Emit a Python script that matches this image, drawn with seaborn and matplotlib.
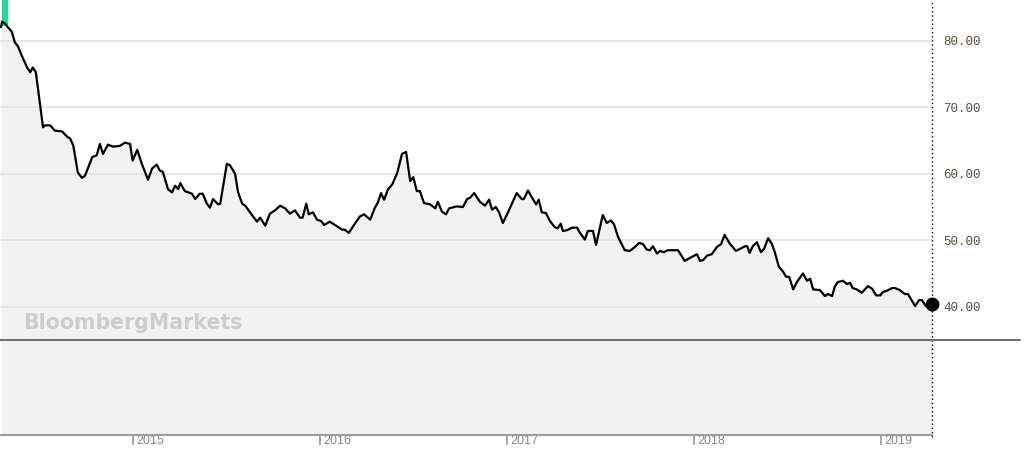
import numpy as np
import pandas as pd
import matplotlib
matplotlib.use("Agg")
import matplotlib.pyplot as plt
import matplotlib.transforms as mtransforms
import seaborn as sns

# price series (approx. weekly closes)
dates = [
    "2014-04-18", "2014-04-20", "2014-04-26", "2014-05-02", "2014-05-09", "2014-05-15",
    "2014-05-21", "2014-05-29", "2014-06-08", "2014-06-14", "2014-06-19", "2014-06-25",
    "2014-07-09", "2014-07-13", "2014-07-23", "2014-08-01", "2014-08-15", "2014-08-25",
    "2014-08-31", "2014-09-06", "2014-09-15", "2014-09-23", "2014-09-29", "2014-10-13",
    "2014-10-22", "2014-10-28", "2014-11-03", "2014-11-13", "2014-11-22", "2014-12-06",
    "2014-12-16", "2014-12-26", "2014-12-31", "2015-01-09", "2015-01-18", "2015-01-30",
    "2015-02-07", "2015-02-16", "2015-02-22", "2015-02-28", "2015-03-10", "2015-03-18",
    "2015-03-24", "2015-03-30", "2015-04-03", "2015-04-12", "2015-04-26", "2015-05-02",
    "2015-05-11", "2015-05-17", "2015-05-25", "2015-05-31", "2015-06-06", "2015-06-16",
    "2015-06-20", "2015-07-03", "2015-07-09", "2015-07-19", "2015-07-25", "2015-08-02",
    "2015-08-08", "2015-08-22", "2015-08-31", "2015-09-06", "2015-09-16", "2015-09-25",
    "2015-10-05", "2015-10-15", "2015-10-25", "2015-11-03", "2015-11-13", "2015-11-23",
    "2015-11-28", "2015-12-05", "2015-12-10", "2015-12-18", "2015-12-26", "2016-01-03",
    "2016-01-09", "2016-01-20", "2016-01-30", "2016-02-13", "2016-02-18", "2016-02-26",
    "2016-03-09", "2016-03-19", "2016-03-27", "2016-04-08", "2016-04-17", "2016-04-23",
    "2016-04-29", "2016-05-05", "2016-05-13", "2016-05-21", "2016-05-31", "2016-06-09",
    "2016-06-17", "2016-06-25", "2016-07-01", "2016-07-08", "2016-07-14", "2016-07-22",
    "2016-08-03", "2016-08-13", "2016-08-18", "2016-08-26", "2016-09-03", "2016-09-09",
    "2016-09-24", "2016-10-06", "2016-10-14", "2016-10-20", "2016-10-28", "2016-11-08",
    "2016-11-18", "2016-11-26", "2016-12-02", "2016-12-09", "2016-12-15", "2016-12-23",
    "2017-01-02", "2017-01-19", "2017-01-29", "2017-02-02", "2017-02-10", "2017-02-18",
    "2017-02-26", "2017-03-03", "2017-03-09", "2017-03-17", "2017-03-25", "2017-04-03",
    "2017-04-09", "2017-04-15", "2017-04-19", "2017-04-27", "2017-05-07", "2017-05-17",
    "2017-05-21", "2017-06-01", "2017-06-07", "2017-06-17", "2017-06-23", "2017-07-06",
    "2017-07-14", "2017-07-22", "2017-07-28", "2017-08-05", "2017-08-18", "2017-08-28",
    "2017-09-07", "2017-09-15", "2017-09-23", "2017-09-30", "2017-10-06", "2017-10-12",
    "2017-10-20", "2017-10-26", "2017-11-02", "2017-11-10", "2017-11-30", "2017-12-13",
    "2017-12-25", "2018-01-06", "2018-01-12", "2018-01-18", "2018-01-26", "2018-02-04",
    "2018-02-14", "2018-02-22", "2018-03-01", "2018-03-11", "2018-03-23", "2018-03-31",
    "2018-04-10", "2018-04-14", "2018-04-19", "2018-04-25", "2018-05-03", "2018-05-11",
    "2018-05-17", "2018-05-25", "2018-06-01", "2018-06-07", "2018-06-15", "2018-06-23",
    "2018-06-29", "2018-07-05", "2018-07-13", "2018-07-20", "2018-08-01", "2018-08-09",
    "2018-08-15", "2018-08-21", "2018-09-03", "2018-09-13", "2018-09-19", "2018-09-27",
    "2018-10-02", "2018-10-08", "2018-10-18", "2018-10-26", "2018-11-01", "2018-11-06",
    "2018-11-14", "2018-11-24", "2018-12-06", "2018-12-14", "2018-12-22", "2018-12-30",
    "2019-01-04", "2019-01-12", "2019-01-22", "2019-01-28", "2019-02-06", "2019-02-16",
    "2019-02-22", "2019-03-08", "2019-03-16", "2019-03-21", "2019-03-29", "2019-04-02",
    "2019-04-10",
]
prices = [
    82.1, 82.9, 82.6, 82.0, 81.4, 79.8,
    79.2, 77.7, 76.0, 75.3, 76.0, 75.3,
    67.0, 67.3, 67.3, 66.5, 66.4, 65.6,
    65.3, 64.3, 60.2, 59.4, 59.7, 62.5,
    62.8, 64.5, 63.0, 64.4, 64.1, 64.2,
    64.7, 64.5, 62.0, 63.6, 61.5, 59.1,
    60.8, 61.4, 60.5, 60.3, 57.7, 57.2,
    58.2, 57.7, 58.6, 57.4, 57.0, 56.2,
    57.0, 57.0, 55.5, 54.9, 56.2, 55.4,
    55.5, 61.5, 61.3, 60.0, 57.2, 55.5,
    55.2, 53.7, 52.8, 53.4, 52.2, 54.0,
    54.5, 55.2, 54.8, 54.0, 54.5, 53.4,
    53.4, 55.5, 53.9, 54.2, 53.1, 52.9,
    52.3, 52.8, 52.3, 51.6, 51.6, 51.1,
    52.5, 53.6, 53.9, 53.1, 54.9, 55.7,
    57.1, 56.1, 57.7, 58.4, 60.2, 63.0,
    63.3, 58.9, 59.5, 57.4, 57.4, 55.6,
    55.4, 54.8, 55.8, 54.3, 53.9, 54.8,
    55.1, 55.0, 56.2, 56.4, 57.1, 55.8,
    55.2, 56.1, 54.6, 55.0, 54.3, 52.6,
    54.2, 57.1, 56.2, 56.2, 57.5, 56.4,
    55.4, 56.1, 54.2, 54.1, 52.9, 52.0,
    51.8, 52.5, 51.4, 51.5, 51.9, 51.9,
    51.3, 50.1, 51.4, 51.4, 49.3, 53.8,
    52.6, 53.0, 52.4, 50.5, 48.5, 48.4,
    49.0, 49.6, 49.4, 48.6, 48.5, 49.1,
    48.0, 48.4, 48.2, 48.5, 48.5, 46.9,
    47.4, 47.9, 46.9, 47.0, 47.7, 47.9,
    49.0, 49.4, 50.8, 49.5, 48.4, 48.7,
    49.1, 49.1, 48.1, 49.1, 49.7, 48.2,
    48.7, 50.3, 49.5, 48.2, 46.0, 45.3,
    44.5, 44.5, 42.6, 43.7, 45.0, 43.9,
    44.2, 42.6, 42.5, 41.6, 41.9, 41.6,
    43.0, 43.7, 43.9, 43.4, 43.6, 42.8,
    42.6, 42.1, 43.1, 42.7, 41.7, 41.7,
    42.2, 42.4, 42.8, 42.8, 42.5, 41.9,
    41.9, 40.1, 41.0, 41.0, 40.1, 40.5,
    40.4,
]

y_ticks = [40, 50, 60, 70, 80]
year_ticks = ["2015-01-01", "2016-01-01", "2017-01-01", "2018-01-01", "2019-01-01"]
year_labels = ["2015", "2016", "2017", "2018", "2019"]
window_start = "2014-04-16"
volume_divider = 35

df = pd.DataFrame({"date": pd.to_datetime(dates), "price": prices})

sns.set_theme(style="white")
plt.rcParams["font.family"] = ["DejaVu Sans"]

fig = plt.figure(figsize=(10.24, 4.62), dpi=100)
ax = fig.add_axes([0, 27 / 462, 932 / 1024, 435 / 462])

y_lo, y_hi = 20.68, 86.17
ax.set_xlim(pd.Timestamp(window_start), df["date"].iloc[-1])
ax.set_ylim(y_lo, y_hi)

# grey area under the curve
ax.fill_between(df["date"], df["price"], y_lo, color="#f2f2f2", lw=0, zorder=1)
for v in y_ticks:
    ax.axhline(v, color="#e3e3e3", lw=1.2, zorder=1.5)

sns.lineplot(data=df, x="date", y="price", ax=ax, color="black", lw=1.6, zorder=3)

# start marker and end point
ax.vlines(df["date"].iloc[0] + pd.Timedelta(days=7), df["price"].iloc[1] - 0.6, y_hi,
          color="#27d69c", lw=4.5, zorder=2.5)
ax.plot(df["date"].iloc[-1], df["price"].iloc[-1], "o", color="black", ms=9,
        clip_on=False, zorder=5)
ax.axvline(df["date"].iloc[-1], color="black", ls=(0, (1, 2)), lw=1, zorder=4,
           clip_on=False, ymin=-0.005)

# panel divider line that runs past the price area
ax.plot([0, 1020 / 932], [volume_divider, volume_divider], color="#6e6e6e", lw=1.4,
        transform=ax.get_yaxis_transform(), clip_on=False, zorder=4)

ax.text(23 / 932, 37.6, "BloombergMarkets", transform=ax.get_yaxis_transform(),
        fontsize=14.8, fontweight="bold", color="#cdcdcd", va="center", ha="left")

# axes styling
for side in ["top", "left", "right"]:
    ax.spines[side].set_visible(False)
ax.spines["bottom"].set_color("#9d9d9d")
ax.spines["bottom"].set_linewidth(1.5)

ax.yaxis.tick_right()
ax.set_yticks(y_ticks)
ax.set_yticklabels([f"{v:.2f}" for v in y_ticks], family=["Liberation Mono", "DejaVu Sans Mono"],
                   fontsize=9, color="#5a4a3e")
ax.tick_params(axis="y", length=0, pad=8)

ax.set_xticks(pd.to_datetime(year_ticks))
ax.set_xticklabels(year_labels, family=["Liberation Sans", "DejaVu Sans"],
                   fontsize=9, color="#888888")
ax.tick_params(axis="x", bottom=True, length=7, width=1.3, color="#a0a0a0",
               direction="out", pad=-6.8)
offset = mtransforms.ScaledTranslation(2 / 72, 0, fig.dpi_scale_trans)
for lab in ax.get_xticklabels():
    lab.set_horizontalalignment("left")
    lab.set_transform(lab.get_transform() + offset)

ax.set_xlabel("")
ax.set_ylabel("")
ax.grid(False)

fig.savefig("out.png", dpi=100)
